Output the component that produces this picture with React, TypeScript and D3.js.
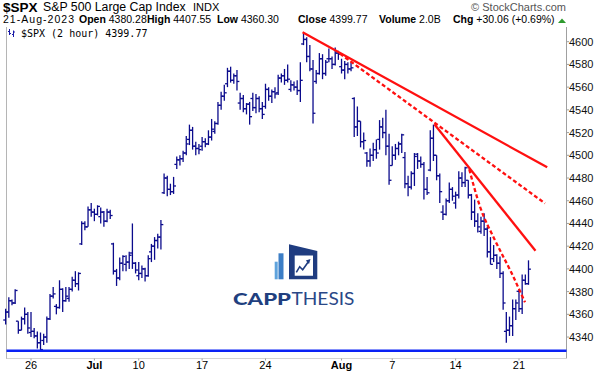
import React from "react";
import * as d3 from "d3";

const W = 598;
const H = 371;

// Trading days shown (2-hour bars, 4 per day, Jul 3 half session = 2 bars)
const tradingDays = [
  "Jun 22", "Jun 23", "Jun 26", "Jun 27", "Jun 28", "Jun 29", "Jun 30",
  "Jul 3", "Jul 5", "Jul 6", "Jul 7", "Jul 10", "Jul 11", "Jul 12", "Jul 13", "Jul 14",
  "Jul 17", "Jul 18", "Jul 19", "Jul 20", "Jul 21", "Jul 24", "Jul 25", "Jul 26", "Jul 27", "Jul 28",
  "Jul 31", "Aug 1", "Aug 2", "Aug 3", "Aug 4", "Aug 7", "Aug 8", "Aug 9", "Aug 10", "Aug 11",
  "Aug 14", "Aug 15", "Aug 16", "Aug 17", "Aug 18", "Aug 21",
];
const halfDays = ["Jul 3"];

// [open, high, low, close] per 2-hour bar
const ohlc: number[][] = [
  // Jun 22
  [4355, 4365, 4351, 4362], [4362, 4375, 4357, 4372], [4372, 4373, 4368, 4370], [4370, 4382, 4369, 4381],
  // Jun 23
  [4354, 4354, 4343, 4346], [4346, 4358, 4346, 4356], [4356, 4366, 4351, 4360], [4360, 4362, 4343, 4348],
  // Jun 26
  [4344, 4362, 4340, 4345], [4345, 4348, 4339, 4341], [4341, 4345, 4330, 4335], [4335, 4344, 4328, 4329],
  // Jun 27
  [4337, 4343, 4333, 4340], [4340, 4358, 4335, 4356], [4356, 4378, 4355, 4376], [4376, 4384, 4374, 4378],
  // Jun 28
  [4367, 4369, 4360, 4366], [4366, 4390, 4365, 4382], [4382, 4383, 4362, 4372], [4372, 4384, 4371, 4376],
  // Jun 29
  [4374, 4384, 4371, 4382], [4382, 4393, 4380, 4390], [4390, 4398, 4384, 4387], [4387, 4397, 4381, 4396],
  // Jun 30
  [4422, 4442, 4421, 4440], [4440, 4442, 4434, 4437], [4437, 4455, 4437, 4452], [4452, 4458, 4446, 4450],
  // Jul 3
  [4450, 4453, 4442, 4448], [4448, 4456, 4447, 4455],
  // Jul 5
  [4446, 4454, 4440, 4450], [4450, 4451, 4437, 4442], [4442, 4453, 4441, 4450], [4450, 4452, 4444, 4447],
  // Jul 6
  [4422, 4423, 4395, 4398], [4398, 4400, 4385, 4392], [4392, 4410, 4390, 4405], [4405, 4412, 4398, 4411],
  // Jul 7
  [4404, 4412, 4398, 4406], [4406, 4415, 4400, 4412], [4414, 4440, 4400, 4405], [4405, 4406, 4396, 4399],
  // Jul 10
  [4394, 4406, 4390, 4396], [4396, 4403, 4392, 4400], [4400, 4401, 4389, 4394], [4394, 4412, 4393, 4409],
  // Jul 11
  [4415, 4422, 4406, 4420], [4420, 4428, 4408, 4425], [4425, 4431, 4418, 4428], [4428, 4443, 4417, 4439],
  // Jul 12
  [4467, 4484, 4466, 4480], [4480, 4482, 4464, 4470], [4470, 4475, 4465, 4468], [4468, 4481, 4466, 4473],
  // Jul 13
  [4492, 4499, 4488, 4496], [4496, 4500, 4491, 4497], [4497, 4504, 4494, 4502], [4502, 4517, 4500, 4510],
  // Jul 14
  [4514, 4527, 4509, 4522], [4522, 4525, 4505, 4508], [4508, 4512, 4500, 4506], [4506, 4510, 4501, 4505],
  // Jul 17
  [4508, 4516, 4504, 4512], [4512, 4515, 4507, 4510], [4510, 4522, 4509, 4516], [4516, 4532, 4513, 4523],
  // Jul 18
  [4521, 4530, 4519, 4528], [4528, 4547, 4527, 4544], [4544, 4556, 4540, 4552], [4552, 4562, 4548, 4555],
  // Jul 19
  [4563, 4577, 4560, 4574], [4574, 4578, 4564, 4566], [4566, 4572, 4563, 4570], [4570, 4575, 4557, 4565],
  // Jul 20
  [4546, 4555, 4540, 4550], [4550, 4553, 4538, 4541], [4541, 4546, 4536, 4545], [4545, 4547, 4527, 4534],
  // Jul 21
  [4550, 4555, 4539, 4542], [4542, 4554, 4537, 4550], [4550, 4552, 4538, 4541], [4541, 4547, 4532, 4536],
  // Jul 24
  [4543, 4563, 4541, 4558], [4558, 4560, 4548, 4552], [4552, 4558, 4546, 4556], [4556, 4560, 4550, 4554],
  // Jul 25
  [4555, 4571, 4553, 4568], [4568, 4572, 4564, 4570], [4570, 4576, 4562, 4566], [4566, 4580, 4564, 4567],
  // Jul 26
  [4558, 4566, 4556, 4562], [4562, 4565, 4557, 4560], [4560, 4566, 4553, 4557], [4557, 4582, 4547, 4566],
  // Jul 27
  [4598, 4607, 4597, 4602], [4602, 4604, 4582, 4587], [4587, 4597, 4574, 4576], [4576, 4584, 4528, 4537],
  // Jul 28
  [4565, 4575, 4563, 4572], [4572, 4590, 4571, 4585], [4585, 4589, 4567, 4572], [4572, 4584, 4570, 4582],
  // Jul 31
  [4585, 4594, 4582, 4585], [4585, 4587, 4576, 4580], [4580, 4595, 4579, 4590], [4590, 4592, 4584, 4589],
  // Aug 1
  [4578, 4585, 4572, 4575], [4575, 4583, 4567, 4580], [4580, 4582, 4572, 4576], [4576, 4582, 4574, 4577],
  // Aug 2
  [4550, 4551, 4516, 4525], [4525, 4543, 4517, 4530], [4530, 4530, 4507, 4512], [4512, 4520, 4505, 4513],
  // Aug 3
  [4502, 4503, 4490, 4495], [4495, 4506, 4490, 4500], [4500, 4511, 4495, 4505], [4505, 4514, 4497, 4502],
  // Aug 4
  [4514, 4531, 4505, 4525], [4525, 4533, 4515, 4520], [4520, 4540, 4500, 4508], [4508, 4519, 4474, 4478],
  // Aug 7
  [4491, 4508, 4491, 4500], [4500, 4510, 4496, 4506], [4506, 4512, 4500, 4510], [4510, 4519, 4502, 4518],
  // Aug 8
  [4498, 4503, 4471, 4475], [4475, 4482, 4464, 4472], [4472, 4486, 4470, 4484], [4484, 4502, 4473, 4499],
  // Aug 9
  [4501, 4502, 4488, 4495], [4495, 4499, 4489, 4492], [4492, 4494, 4461, 4470], [4470, 4481, 4465, 4467],
  // Aug 10
  [4487, 4522, 4486, 4515], [4515, 4527, 4495, 4500], [4500, 4500, 4478, 4482], [4482, 4484, 4458, 4468],
  // Aug 11
  [4450, 4456, 4443, 4448], [4448, 4462, 4447, 4460], [4460, 4476, 4458, 4470], [4470, 4472, 4460, 4464],
  // Aug 14
  [4458, 4468, 4453, 4465], [4465, 4486, 4462, 4480], [4480, 4485, 4472, 4476], [4476, 4490, 4472, 4489],
  // Aug 15
  [4478, 4478, 4462, 4465], [4465, 4466, 4443, 4450], [4450, 4461, 4437, 4442], [4442, 4449, 4432, 4437],
  // Aug 16
  [4433, 4446, 4431, 4442], [4442, 4449, 4429, 4435], [4435, 4437, 4410, 4415], [4415, 4428, 4404, 4404],
  // Aug 17
  [4409, 4421, 4406, 4412], [4412, 4413, 4400, 4405], [4405, 4411, 4392, 4396], [4396, 4398, 4364, 4370],
  // Aug 18
  [4345, 4362, 4335, 4346], [4346, 4358, 4341, 4350], [4350, 4373, 4341, 4365], [4365, 4373, 4355, 4370],
  // Aug 21
  [4380.28, 4382, 4362, 4365], [4365, 4395, 4360.3, 4390], [4390, 4395, 4386, 4387], [4387, 4407.55, 4386, 4399.77],
];

// X-axis labels
const tickDays = ["Jun 26", "Jul 3", "Jul 10", "Jul 17", "Jul 24", "Aug 1", "Aug 7", "Aug 14", "Aug 21"];
const tickLabels = ["26", "Jul", "10", "17", "24", "Aug", "7", "14", "21"];
const monthLabels = ["Jul", "Aug"];

// Y-axis ticks
const yTicks = d3.range(4340, 4601, 20);

// Horizontal support line (June 26 low)
const supportLevel = 4328;

// Trendlines: [bar index, price]
const trendSolidLong = [[93.7, 4608.3], [170.9, 4489.4]];
const trendDashedLong = [[105.5, 4589.5], [170.2, 4457.7]];
const trendSolidSteep = [[135.3, 4527.3], [167.2, 4416.0]];
const trendDashedCurve = [[146.3, 4487.7], [149.7, 4454.8], [154.4, 4425.4], [159.7, 4396.1], [163.9, 4370.6]];

const SANS = "'Liberation Sans', Arial, Helvetica, sans-serif";
const BAR_COLOR = "#0b0b8c";
const RED = "#ff1010";

export default function App() {
  // day start indices
  const dayStart: Record<string, number> = {};
  let acc = 0;
  tradingDays.forEach((d) => {
    dayStart[d] = acc;
    acc += halfDays.includes(d) ? 2 : 4;
  });

  const x = d3.scaleLinear().domain([0, 165]).range([5.65, 528.5]);
  const y = d3.scaleLinear().domain([4340, 4600]).range([337.06, 41.7]);

  const line = d3
    .line<number[]>()
    .x((d) => x(d[0]))
    .y((d) => y(d[1]));
  const curve = d3
    .line<number[]>()
    .x((d) => x(d[0]))
    .y((d) => y(d[1]))
    .curve(d3.curveMonotoneX);

  const plotLeft = 6.5;
  const plotRight = 566.5;
  const plotTop = 27;
  const plotBottom = 358.5;

  return (
    <div style={{ position: "absolute", left: 0, top: 0 }}>
      <svg width={W} height={H} viewBox={`0 0 ${W} ${H}`} style={{ display: "block", background: "#fff" }}>
        <rect x={0} y={0} width={W} height={H} fill="#ffffff" />

        {/* Header line 1 */}
        <text x={3} y={11.5} fontFamily={SANS} fontSize={13.5} fontWeight="bold" fill="#000">$SPX</text>
        <text x={43} y={11} fontFamily={SANS} fontSize={12.3} fill="#000">S&amp;P 500 Large Cap Index</text>
        <text x={193} y={11} fontFamily={SANS} fontSize={11} fill="#000">INDX</text>
        <text x={566} y={10.5} fontFamily={SANS} fontSize={11} fill="#555" textAnchor="end">© StockCharts.com</text>

        {/* Header line 2 */}
        <g fontFamily={SANS} fontSize={10.5} fill="#000">
          <text x={3} y={23} textLength={71} lengthAdjust="spacing">21-Aug-2023</text>
          <text x={79} y={23}><tspan fontWeight="bold">Open</tspan> 4380.28</text>
          <text x={147} y={23}><tspan fontWeight="bold">High</tspan> 4407.55</text>
          <text x={217} y={23}><tspan fontWeight="bold">Low</tspan> 4360.30</text>
          <text x={298} y={23}><tspan fontWeight="bold">Close</tspan> 4399.77</text>
          <text x={379} y={23}><tspan fontWeight="bold">Volume</tspan> 2.0B</text>
          <text x={453} y={23}><tspan fontWeight="bold">Chg</tspan> +30.06 (+0.69%)</text>
        </g>
        <path d="M558,23 L562,18.5 L566,23 Z" fill="#2e9a2e" />

        {/* Watermark logo */}
        <g>
          <rect x={274.7} y={261.7} width={3} height={17.6} fill="#5fa3dc" />
          <rect x={278.5} y={253.3} width={5} height={26} fill="#3c7ec6" />
          <path
            d="M289,244.3 L317.3,251 L317.3,279.3 L289,279.3 Z M294.7,255.5 L294.7,275.7 L313,275.7 L313,255.5 Z"
            fill="#1f3c80"
            fillRule="evenodd"
          />
          <polyline
            points="296.3,272.3 299.7,266.7 302.7,269.7 308,262.3"
            fill="none"
            stroke="#1f3c80"
            strokeWidth={1.6}
          />
          <path d="M310.5,259 L305.8,260.6 L309,264 Z" fill="#1f3c80" />
          <text x={233} y={305} fontFamily="Lato, 'Open Sans', sans-serif" fontWeight={900} fontSize={16.5} fill="#213f7f" textLength={58} lengthAdjust="spacingAndGlyphs">CAPP</text>
          <text x={291.5} y={305} fontFamily="Lato, 'Open Sans', sans-serif" fontWeight={400} fontSize={16.5} fill="#2a4887" textLength={63} lengthAdjust="spacingAndGlyphs">THESIS</text>
        </g>

        {/* Frame */}
        <line x1={plotLeft} y1={plotTop} x2={plotLeft} y2={plotBottom} stroke="#b5b5b5" strokeWidth={1} />
        <line x1={plotRight} y1={plotTop} x2={plotRight} y2={plotBottom} stroke="#a0a0a0" strokeWidth={1} />
        <line x1={plotLeft} y1={plotBottom} x2={plotRight} y2={plotBottom} stroke="#a8a8a8" strokeWidth={1} strokeDasharray="1,1" />

        {/* Legend */}
        <g stroke="#1a1aa8" strokeWidth={1}>
          <line x1={9.5} y1={29} x2={9.5} y2={35} />
          <line x1={8} y1={31.5} x2={9.5} y2={31.5} />
          <line x1={9.5} y1={33.5} x2={11} y2={33.5} />
          <line x1={13.5} y1={30.5} x2={13.5} y2={37} />
          <line x1={12} y1={34.5} x2={13.5} y2={34.5} />
          <line x1={13.5} y1={32} x2={15} y2={32} />
        </g>
        <text x={21} y={37} fontFamily="'DejaVu Sans Mono', monospace" fontSize={10} fill="#000">$SPX (2 hour) 4399.77</text>

        {/* Y axis */}
        {yTicks.map((v) => (
          <g key={v}>
            <line x1={plotRight} x2={plotRight + 2.5} y1={y(v)} y2={y(v)} stroke="#a0a0a0" />
            <text x={569} y={y(v) + 4} fontFamily={SANS} fontSize={11} fill="#111">{v}</text>
          </g>
        ))}

        {/* X axis */}
        {tickDays.map((d, i) => {
          const xi = x(dayStart[d]);
          const bold = monthLabels.includes(tickLabels[i]);
          return (
            <g key={d}>
              <line x1={xi} x2={xi} y1={plotBottom} y2={plotBottom + 2} stroke="#a0a0a0" />
              <text
                x={xi}
                y={368.5}
                fontFamily={SANS}
                fontSize={11}
                fontWeight={bold ? "bold" : "normal"}
                textAnchor="middle"
                fill="#000"
              >
                {tickLabels[i]}
              </text>
            </g>
          );
        })}

        {/* OHLC bars */}
        <g stroke={BAR_COLOR} strokeWidth={1.3} fill="none">
          {ohlc.map((b, i) => {
            const xi = x(i);
            return (
              <g key={i}>
                <line x1={xi} x2={xi} y1={y(b[1])} y2={y(b[2])} />
                <line x1={xi - 2.4} x2={xi} y1={y(b[0])} y2={y(b[0])} />
                <line x1={xi} x2={xi + 2.4} y1={y(b[3])} y2={y(b[3])} />
              </g>
            );
          })}
        </g>

        {/* Support line */}
        <line
          x1={plotLeft}
          x2={plotRight}
          y1={y(supportLevel)}
          y2={y(supportLevel)}
          stroke="#0a22f5"
          strokeWidth={2.4}
        />

        {/* Trendlines */}
        <path d={line(trendSolidLong) || ""} stroke={RED} strokeWidth={2.3} fill="none" />
        <path d={line(trendDashedLong) || ""} stroke={RED} strokeWidth={2.3} fill="none" strokeDasharray="4,2.5" />
        <path d={line(trendSolidSteep) || ""} stroke={RED} strokeWidth={2.3} fill="none" />
        <path d={curve(trendDashedCurve) || ""} stroke={RED} strokeWidth={2.3} fill="none" strokeDasharray="4,2.5" />
      </svg>
    </div>
  );
}
